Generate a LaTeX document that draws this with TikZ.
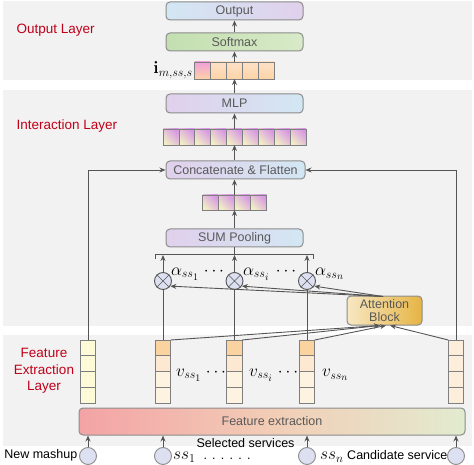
\documentclass[tikz,border=0pt]{standalone}
\usepackage[no-math]{fontspec}
\setmainfont{Liberation Sans}
\DeclareMathSizes{16.5}{16.5}{12.5}{10}
\usetikzlibrary{arrows.meta,calc}
\definecolor{panel}{HTML}{F2F2F2}
\definecolor{boxgray}{HTML}{8C8C8C}
\definecolor{txtgray}{HTML}{595959}
\definecolor{arrgray}{HTML}{555555}
\definecolor{layred}{HTML}{C00018}
\definecolor{cellgray}{HTML}{7F7F7F}
\definecolor{lblue}{HTML}{D3E7F3}
\definecolor{lav}{HTML}{E0D0EC}
\definecolor{gA}{HTML}{C3DFB0}
\definecolor{gB}{HTML}{D8EAC8}
\definecolor{attA}{HTML}{F7E7C2}
\definecolor{attB}{HTML}{E6B444}
\definecolor{feA}{HTML}{F3A3A5}
\definecolor{feM}{HTML}{F2CDB6}
\definecolor{feB}{HTML}{E2EBCF}
\definecolor{pk}{HTML}{F0A0DA}
\definecolor{pch}{HTML}{FCD3A6}
\definecolor{pchL}{HTML}{FDE2C8}
\definecolor{mag}{HTML}{D898E6}
\definecolor{ylw}{HTML}{F1EDC4}
\definecolor{orT}{HTML}{FBD3A0}
\definecolor{orM}{HTML}{FDE8D2}
\definecolor{orB}{HTML}{FDF3E0}
\definecolor{myl}{HTML}{FDFAD8}
\definecolor{cpe}{HTML}{FDEEDB}
\definecolor{circ}{HTML}{DCE0F1}
\begin{document}
\begin{tikzpicture}[x=1pt,y=-1pt,
  box/.style={draw=boxgray, line width=1pt, rounded corners=4pt, minimum width=137pt, minimum height=18pt, inner sep=0pt, text=txtgray, font=\fontsize{12.5}{14}\selectfont},
  arr/.style={draw=arrgray, line width=0.9pt, -{Stealth[length=6pt,width=5pt]}},
  ln/.style={draw=arrgray, line width=0.9pt},
  cellbox/.style={draw=cellgray, line width=0.7pt, inner sep=0pt},
  layer/.style={text=layred, font=\fontsize{13.5}{16.5}\selectfont, align=center},
  mlab/.style={font=\fontsize{16.5}{18}\selectfont, inner sep=0pt},
  ghost/.style={inner sep=0pt, outer sep=0pt},
  xcirc/.style={circle, draw=arrgray, line width=0.9pt, fill=circ, minimum size=17pt, inner sep=0pt}
]
\useasboundingbox (0,0) rectangle (474,465);
% panels
\fill[panel] (3,1) rectangle (472,80);
\fill[panel] (3,90) rectangle (472,326);
\fill[panel] (3,335) rectangle (472,446);
% layer labels
\node[layer, anchor=west] (lo) at (13,30) {Output Layer};
\node[layer, anchor=west] (li) at (13,126) {Interaction Layer};
\node[layer] (lf) at (44,371) {Feature\\Extraction\\Layer};
% output layer
\node[box, left color=lblue, right color=lav] (out) at (234.5,11) {Output};
\node[box, left color=gA, right color=gB] (sm) at (234.5,42) {Softmax};
\node[ghost, minimum width=80pt, minimum height=17pt] (iv) at (234.5,70.5) {};
\fill[top color=pk, bottom color=pch] (194.5,62) rectangle (210.5,79);
\foreach \k in {1,...,4} \fill[top color=pchL, bottom color=pch] (194.5+16*\k,62) rectangle (210.5+16*\k,79);
\foreach \k in {0,...,4} \draw[cellbox] (194.5+16*\k,62) rectangle (210.5+16*\k,79);
\node[mlab, anchor=east] (ilab) at (193,70) {$\mathbf{i}_{m,ss,s}$};
\draw[arr] (sm.north) -- (out.south);
\draw[arr] (iv.north) -- (sm.south);
% interaction layer
\node[box, left color=lav, right color=lblue, minimum height=19pt] (mlp) at (234.5,103.5) {MLP};
\draw[arr] (mlp.north) -- (iv.south);
\node[ghost, minimum width=143pt, minimum height=16pt] (v9) at (234.5,137) {};
\foreach \k in {0,...,8} {
  \fill[top color=mag, bottom color=ylw, shading angle=-45] (163+15.889*\k,129) rectangle (178.889+15.889*\k,145);
  \draw[cellbox] (163+15.889*\k,129) rectangle (178.889+15.889*\k,145);
}
\draw[arr] (v9.north) -- (mlp.south);
\node[box, left color=lav, right color=lblue, minimum width=139pt] (cat) at (235.5,170) {Concatenate \& Flatten};
\draw[arr] (cat.north -| v9.south) -- (v9.south);
\node[ghost, minimum width=64pt, minimum height=15pt] (v4) at (234.5,202.5) {};
\foreach \k in {0,...,3} {
  \fill[top color=mag, bottom color=ylw, shading angle=-45] (202.5+16*\k,195) rectangle (218.5+16*\k,210);
  \draw[cellbox] (202.5+16*\k,195) rectangle (218.5+16*\k,210);
}
\node[box, left color=lav, right color=lblue] (pool) at (234.5,238) {SUM Pooling};
\draw[arr] (pool.north) -- (v4.south);
\draw[arr] (v4.north) -- (v4.north |- cat.south);
% bracket
\coordinate (brL) at (155,259);
\coordinate (brR) at (313,259);
\coordinate (brC) at (234.5,254);
\draw[ln] (brL) -- (155,254) -- (313,254) -- (brR);
\draw[ln] (brC) -- (pool.south);
% multiply circles
\foreach \n/\x in {1/163,2/234.5,3/307} {
  \node[xcirc] (c\n) at (\x,281) {};
  \draw[arrgray, line width=0.7pt] (c\n.45) -- (c\n.225) (c\n.135) -- (c\n.-45);
  \coordinate (b\n) at (\x,255);
  \draw[arr] (c\n.north) -- (b\n);
}
\node[mlab, anchor=west] (a1) at (171,274) {$\alpha_{ss_1}$};
\node[mlab] (d1) at (214,272) {$\cdots$};
\node[mlab, anchor=west] (a2) at (243,274) {$\alpha_{ss_i}$};
\node[mlab] (d2) at (286,272) {$\cdots$};
\node[mlab, anchor=west] (a3) at (315,274) {$\alpha_{ss_n}$};
% attention
\node[box, left color=attA, right color=attB, minimum width=75pt, minimum height=29pt, align=center, font=\fontsize{12.5}{13}\selectfont] (att) at (384.5,310.5) {Attention\\Block};
\coordinate (attT) at (383,296.5);
\foreach \n in {1,2,3} \draw[arr] (attT) -- (c\n.-35);
% feature vectors
\foreach \nm/\x in {vm/88,v1/163,v2/234.5,v3/307,vc/456} {
  \node[ghost, minimum width=15.5pt, minimum height=63.2pt] (\nm) at (\x,371.6) {};
}
\foreach \x/\ca/\cb/\cc/\cd in {88/myl/myl/myl/myl, 163/orT/orM/orB/orB, 234.5/orT/orM/orB/orB, 307/orT/orM/orB/orB, 456/cpe/cpe/cpe/cpe} {
  \fill[\ca] (\x-7.75,340) rectangle (\x+7.75,355.8);
  \fill[\cb] (\x-7.75,355.8) rectangle (\x+7.75,371.6);
  \fill[\cc] (\x-7.75,371.6) rectangle (\x+7.75,387.4);
  \fill[\cd] (\x-7.75,387.4) rectangle (\x+7.75,403.2);
  \foreach \k in {0,...,3} \draw[cellbox] (\x-7.75,340+15.8*\k) rectangle (\x+7.75,355.8+15.8*\k);
}
\node[mlab, anchor=west] (l1) at (176,375) {$v_{ss_1}$};
\node[mlab] (e1) at (216,373) {$\cdots$};
\node[mlab, anchor=west] (l2) at (249,375) {$v_{ss_i}$};
\node[mlab] (e2) at (288,373) {$\cdots$};
\node[mlab, anchor=west] (l3) at (322,375) {$v_{ss_n}$};
% connections feature -> interaction
\draw[arr] (vm.north) |- (cat.west);
\draw[arr] (vc.north) |- (cat.east);
\draw[ln] (v1.north) -- (c1.south);
\draw[ln] (v2.north) -- (c2.south);
\draw[ln] (v3.north) -- (c3.south);
\coordinate (attB1) at (380,325.5);
\coordinate (attB2) at (386,325.5);
\coordinate (attB3) at (390,325.5);
\draw[arr] (v1.north east) -- (attB1);
\draw[arr] (v2.north east) -- (attB1);
\draw[arr] (v3.north east) -- (attB2);
\draw[arr] (vc.north west) -- (attB3);
% feature extraction
\node[box, left color=feA, right color=feB, middle color=feM, minimum width=386pt, minimum height=27pt] (fe) at (272,421.5) {Feature extraction};
\foreach \n/\x in {1/88,2/163,3/307,4/456} {
  \node[circle, draw=boxgray, line width=0.9pt, fill=circ, minimum size=17pt, inner sep=0pt] (in\n) at (\x,456) {};
  \draw[arr] (in\n.north) -- (in\n.north |- fe.south);
}
\node[anchor=east, font=\fontsize{12.5}{14}\selectfont, inner sep=0pt] (tnm) at (77.5,455) {New mashup};
\node[mlab, anchor=west] (ts1) at (173,457) {$ss_1$};
\node[font=\fontsize{12.5}{14}\selectfont, inner sep=0pt] (tsel) at (245.5,443.5) {Selected services};
\node[font=\fontsize{12.5}{14}\selectfont, inner sep=0pt] (tdots) at (227,459) {\makebox[47pt][s]{.\hfil.\hfil.\hfil.\hfil.\hfil.}};
\node[mlab, anchor=west] (tsn) at (320,457) {$ss_n$};
\node[anchor=east, font=\fontsize{12.5}{14}\selectfont, inner sep=0pt] (tcs) at (447.5,455) {Candidate service};
\end{tikzpicture}
\end{document}
